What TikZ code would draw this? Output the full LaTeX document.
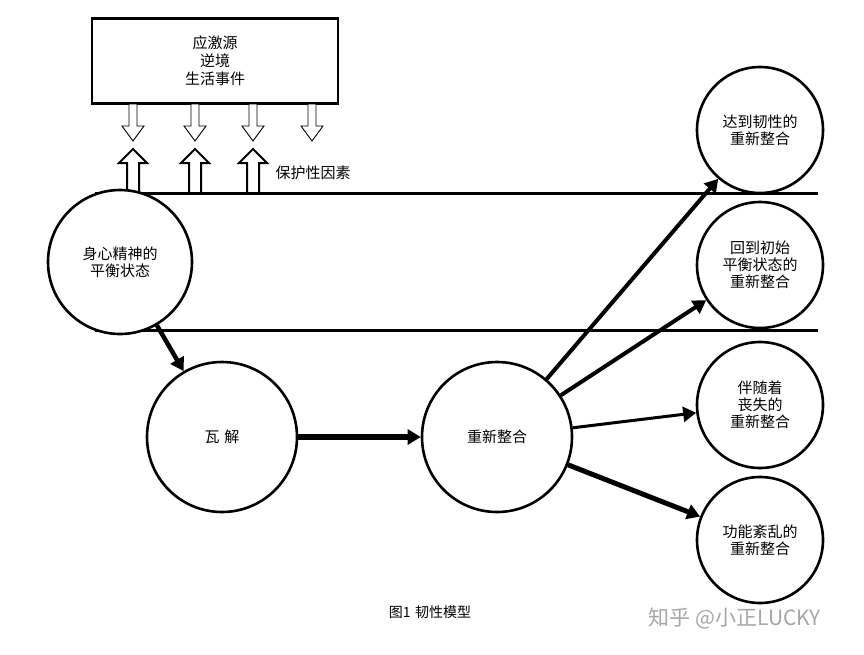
\documentclass[tikz,border=0pt]{standalone}
\usepackage{fontspec}
\setmainfont{Noto Sans CJK SC}
\usetikzlibrary{arrows.meta}
\begin{document}
\begin{tikzpicture}[x=1pt,y=-1pt,
  circ/.style={draw,circle,line width=2.6pt,align=center,font=\fontsize{15}{17}\selectfont,inner sep=0pt},
  thick arrow/.style={line width=4.5pt,-{Triangle[length=13pt,width=15pt]}},
  hol/.style={draw,line width=0.9pt,fill=white},
  hline/.style={line width=3pt}]
\useasboundingbox (0,0) rectangle (864,654);
\node[draw,line width=2.6pt,minimum width=246pt,minimum height=85pt,align=center,font=\fontsize{15}{18}\selectfont] (top) at (215,61) {应激源\\逆境\\生活事件};
\foreach \x in {133,195,253,312}{
  \draw[hol] (\x-4,104) -- (\x-4,126) -- (\x-11,126) -- (\x,141) -- (\x+11,126) -- (\x+4,126) -- (\x+4,104) -- cycle;}
\foreach \x in {133,195,253}{
  \draw[hol,line width=2pt] (\x-6,192) -- (\x-6,163) -- (\x-14,163) -- (\x,149) -- (\x+14,163) -- (\x+6,163) -- (\x+6,192);}
\node[font=\fontsize{15}{17}\selectfont,anchor=west] (prot) at (272,173) {保护性因素};
\coordinate (l1a) at (95,193); \coordinate (l1b) at (818,193);
\coordinate (l2a) at (95,330); \coordinate (l2b) at (818,330);
\draw[hline] (l1a) -- (l1b);
\draw[hline] (l2a) -- (l2b);
\node[circ,fill=white,minimum size=144pt] (bal) at (120,262) {身心精神的\\平衡状态};
\node[circ,minimum size=150pt] (dis) at (222,437) {瓦\,\,解};
\node[circ,minimum size=150pt] (re) at (497,437) {重新整合};
\node[circ,fill=white,minimum size=126pt] (r1) at (760,130) {达到韧性的\\重新整合};
\node[circ,fill=white,minimum size=126pt] (r2) at (760,265) {回到初始\\平衡状态的\\重新整合};
\node[circ,fill=white,minimum size=126pt] (r3) at (760,405) {伴随着\\丧失的\\重新整合};
\node[circ,fill=white,minimum size=126pt] (r4) at (760,540) {功能紊乱的\\重新整合};
\draw[thick arrow] (bal) -- (dis);
\draw[thick arrow,line width=6pt] (dis) -- (re);
\draw[thick arrow,line width=4pt] (re) -- (r1);
\draw[thick arrow,line width=4pt] (re) -- (r2);
\draw[thick arrow,line width=3pt] (re) -- (r3);
\draw[thick arrow,line width=5pt] (re) -- (r4);
\node[font=\fontsize{14}{16}\selectfont] (cap) at (430,612) {图1\,\,韧性模型};
\node[font=\fontsize{21}{23}\selectfont,text=gray!70] (wm) at (735,618) {知乎 @小正LUCKY};
\end{tikzpicture}
\end{document}
